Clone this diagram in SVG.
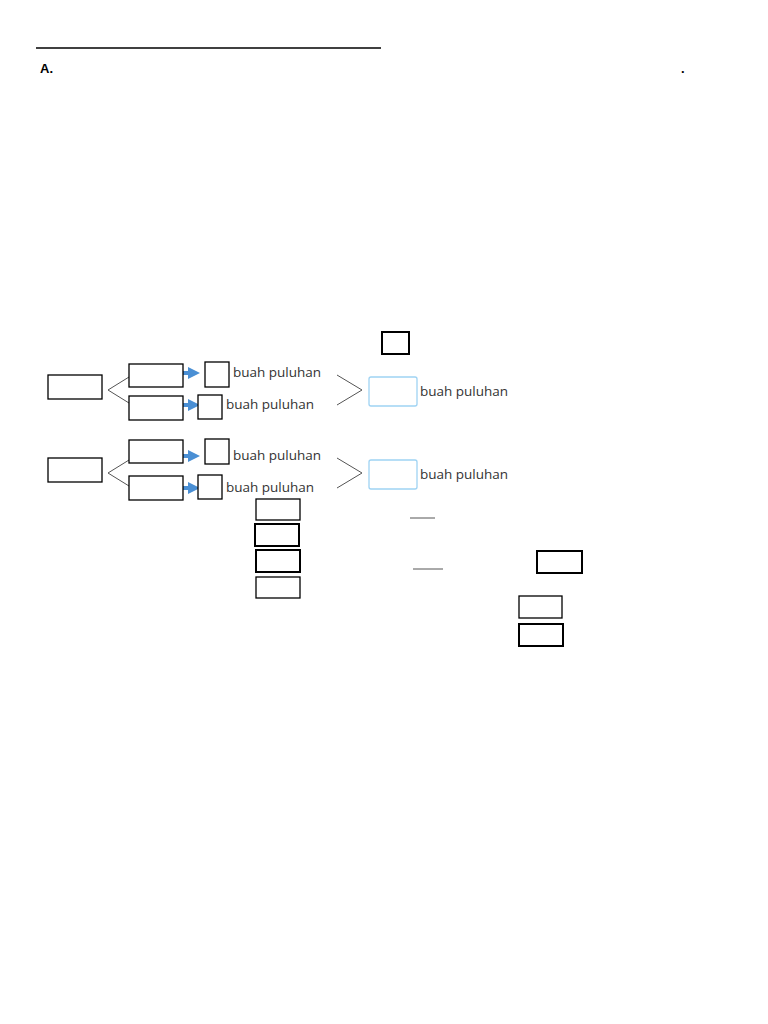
<svg xmlns="http://www.w3.org/2000/svg" width="768" height="1024" viewBox="0 0 768 1024">
<defs>
<style>
.b{fill:#fff;stroke:#000;stroke-width:1.3}
.bb{fill:#fff;stroke:#000;stroke-width:2}
.bl{fill:#fff;stroke:#9fd3f3;stroke-width:1.3}
.t{font-family:"Open Sans","Noto Sans",sans-serif;font-size:13.5px;fill:#333}
.c{fill:none;stroke:#555;stroke-width:1}
</style>
<marker id="ar" markerWidth="3" markerHeight="3" refX="1" refY="1.5" orient="auto" markerUnits="strokeWidth"><path d="M0,0L3,1.5L0,3z" fill="#4a8fd4"/></marker>
</defs>
<rect width="768" height="1024" fill="#fff"/>
<line x1="36" y1="48" x2="381" y2="48" stroke="#000" stroke-width="1.3"/>
<text x="40" y="73" font-family="Liberation Sans,sans-serif" font-size="13" font-weight="bold">A.</text>
<text x="681" y="73" font-family="Liberation Sans,sans-serif" font-size="13" font-weight="bold">.</text>
<g id="connectors">
<polyline class="c" points="129,377 108,390 129,403"/>
<polyline class="c" points="337,375 362,390 337,405"/>
<polyline class="c" points="129,460 108,473 129,486"/>
<polyline class="c" points="337,458 362,473 337,488"/>
<g stroke="#4a8fd4" stroke-width="4" marker-end="url(#ar)">
<line x1="183" y1="373" x2="192" y2="373"/>
<line x1="183" y1="405" x2="192" y2="405"/>
<line x1="183" y1="456" x2="192" y2="456"/>
<line x1="183" y1="488" x2="192" y2="488"/>
</g>
<line x1="410" y1="518" x2="435" y2="518" stroke="#555"/>
<line x1="413" y1="569" x2="443" y2="569" stroke="#555"/>
</g>
<g id="n1"><rect class="bb" x="382" y="332" width="27" height="22"/></g>
<g id="g1">
<rect class="b" x="48" y="375" width="54" height="24"/>
<rect class="b" x="129" y="364" width="54" height="23"/>
<rect class="b" x="129" y="396" width="54" height="24"/>
<rect class="b" x="205" y="362" width="24" height="25"/>
<text class="t" x="233" y="377">buah puluhan</text>
<rect class="b" x="198" y="395" width="24" height="24"/>
<text class="t" x="226" y="409">buah puluhan</text>
<rect class="bl" x="369" y="377" width="48" height="29" rx="2"/>
<text class="t" x="420" y="396">buah puluhan</text>
</g>
<g id="g2">
<rect class="b" x="48" y="458" width="54" height="24"/>
<rect class="b" x="129" y="440" width="54" height="23"/>
<rect class="b" x="129" y="476" width="54" height="24"/>
<rect class="b" x="205" y="439" width="24" height="25"/>
<text class="t" x="233" y="460">buah puluhan</text>
<rect class="b" x="198" y="475" width="24" height="24"/>
<text class="t" x="226" y="492">buah puluhan</text>
<rect class="bl" x="369" y="460" width="48" height="29" rx="2"/>
<text class="t" x="420" y="479">buah puluhan</text>
</g>
<g id="bottom">
<rect class="b" x="256" y="499" width="44" height="21"/>
<rect class="bb" x="255" y="524" width="44" height="22"/>
<rect class="bb" x="256" y="550" width="44" height="22"/>
<rect class="b" x="256" y="577" width="44" height="21"/>
<rect class="bb" x="537" y="551" width="45" height="22"/>
<rect class="b" x="519" y="596" width="43" height="22"/>
<rect class="bb" x="519" y="624" width="44" height="22"/>
</g>
</svg>
